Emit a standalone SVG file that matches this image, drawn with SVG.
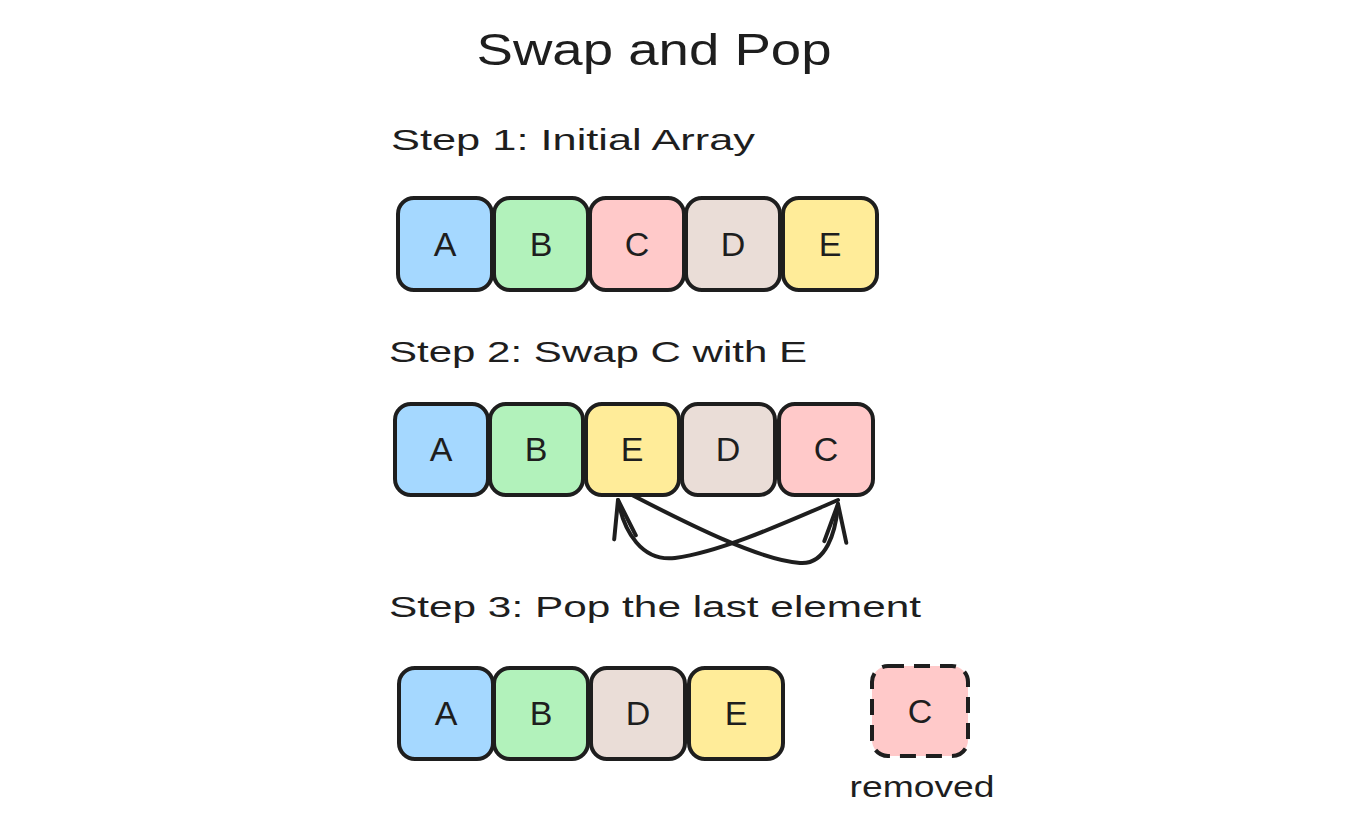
<svg xmlns="http://www.w3.org/2000/svg" width="1358" height="819" viewBox="0 0 1358 819">
<defs>
<style>
.t{font-family:"Liberation Sans","DejaVu Sans",sans-serif;fill:#1e1e1e}
.box{stroke:#1e1e1e;stroke-width:4;stroke-linejoin:round}
.lbl{font-family:"Liberation Sans","DejaVu Sans",sans-serif;font-size:34px;fill:#1e1e1e;text-anchor:middle}
.blue{fill:#a5d8ff}.green{fill:#b2f2bb}.red{fill:#ffc9c9}.tan{fill:#eaddd7}.yel{fill:#ffec99}
.arr{fill:none;stroke:#1e1e1e;stroke-width:4;stroke-linecap:round}
</style>
<marker id="ah" markerUnits="userSpaceOnUse" markerWidth="50" markerHeight="30" refX="0" refY="0" viewBox="-44 -15 48 30" orient="auto" overflow="visible">
<path d="M -38 -11 L 0 0 L -38 11" fill="none" stroke="#1e1e1e" stroke-width="4" stroke-linecap="round" stroke-linejoin="round"/>
</marker>
</defs>
<rect width="1358" height="819" fill="#ffffff"/>

<g id="title"><text class="t" x="654" y="65" font-size="44" text-anchor="middle" textLength="355" lengthAdjust="spacingAndGlyphs">Swap and Pop</text></g>
<g id="step1-label"><text class="t" x="391" y="150" font-size="30" textLength="364" lengthAdjust="spacingAndGlyphs">Step 1: Initial Array</text></g>
<g id="step2-label"><text class="t" x="389" y="362" font-size="30" textLength="418" lengthAdjust="spacingAndGlyphs">Step 2: Swap C with E</text></g>
<g id="step3-label"><text class="t" x="389" y="617" font-size="30" textLength="532" lengthAdjust="spacingAndGlyphs">Step 3: Pop the last element</text></g>

<g id="row1">
<g id="r1-A"><rect class="box blue" x="398" y="198" width="94" height="92" rx="16"/><text class="lbl" x="445" y="256">A</text></g>
<g id="r1-B"><rect class="box green" x="494" y="198" width="94" height="92" rx="16"/><text class="lbl" x="541" y="256">B</text></g>
<g id="r1-C"><rect class="box red" x="590" y="198" width="94" height="92" rx="16"/><text class="lbl" x="637" y="256">C</text></g>
<g id="r1-D"><rect class="box tan" x="686" y="198" width="94" height="92" rx="16"/><text class="lbl" x="733" y="256">D</text></g>
<g id="r1-E"><rect class="box yel" x="783" y="198" width="94" height="92" rx="16"/><text class="lbl" x="830" y="256">E</text></g>
</g>

<g id="row2">
<g id="r2-A"><rect class="box blue" x="395" y="404" width="93" height="91" rx="16"/><text class="lbl" x="441" y="461">A</text></g>
<g id="r2-B"><rect class="box green" x="490" y="404" width="93" height="91" rx="16"/><text class="lbl" x="536" y="461">B</text></g>
<g id="r2-E"><rect class="box yel" x="586" y="404" width="93" height="91" rx="16"/><text class="lbl" x="632" y="461">E</text></g>
<g id="r2-D"><rect class="box tan" x="682" y="404" width="93" height="91" rx="16"/><text class="lbl" x="728" y="461">D</text></g>
<g id="r2-C"><rect class="box red" x="779" y="404" width="94" height="91" rx="16"/><text class="lbl" x="826" y="461">C</text></g>
</g>

<g id="connectors">
<path class="arr" d="M 632 495 C 690 525, 760 560, 800 563 C 826 565, 836 532, 838 504" marker-end="url(#ah)"/>
<path class="arr" d="M 838 500 C 780 525, 720 552, 675 558 C 642 562, 624 532, 618 500" marker-end="url(#ah)"/>
</g>

<g id="row3">
<g id="r3-A"><rect class="box blue" x="399" y="668" width="94" height="91" rx="16"/><text class="lbl" x="446" y="725">A</text></g>
<g id="r3-B"><rect class="box green" x="494" y="668" width="94" height="91" rx="16"/><text class="lbl" x="541" y="725">B</text></g>
<g id="r3-D"><rect class="box tan" x="591" y="668" width="94" height="91" rx="16"/><text class="lbl" x="638" y="725">D</text></g>
<g id="r3-E"><rect class="box yel" x="689" y="668" width="94" height="91" rx="16"/><text class="lbl" x="736" y="725">E</text></g>
</g>

<g id="removed-C">
<rect class="box red" x="872" y="666" width="96" height="90" rx="16" stroke-dasharray="16 10"/>
<text class="lbl" x="920" y="723">C</text>
<text class="t" x="922" y="797" font-size="30" text-anchor="middle" textLength="145" lengthAdjust="spacingAndGlyphs">removed</text>
</g>
</svg>
